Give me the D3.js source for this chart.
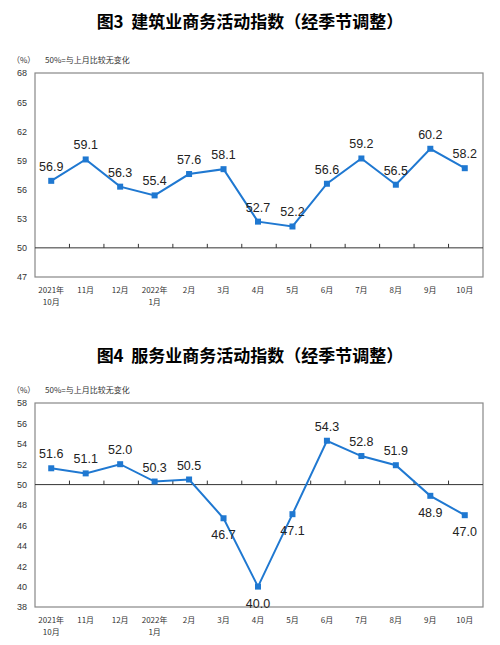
<!DOCTYPE html>
<html><head><meta charset="utf-8">
<script src="https://cdn.jsdelivr.net/npm/d3@7"></script>
<style>body{margin:0;background:#fff;font-family:"Liberation Sans","Noto Sans CJK SC",sans-serif}</style>
</head><body><svg id="c" width="500" height="645"></svg>
<script>
// months shared by both charts
var months = ["2021年|10月","11月","12月","2022年|1月","2月","3月","4月","5月","6月","7月","8月","9月","10月"];
var constValues = [56.9,59.1,56.3,55.4,57.6,58.1,52.7,52.2,56.6,59.2,56.5,60.2,58.2];
var serviceValues = [51.6,51.1,52.0,50.3,50.5,46.7,40.0,47.1,54.3,52.8,51.9,48.9,47.0];
var constTicks = [47,50,53,56,59,62,65,68];
var serviceTicks = [38,40,42,44,46,48,50,52,54,56,58];
// label placement: 1 above, -1 below
var constPos = [1,1,1,1,1,1,1,1,1,1,1,1,1];
var servicePos = [1,1,1,1,1,-1,-1,-1,1,1,1,-1,-1];

var svg = d3.select("#c");

function drawChart(title, titleY, top, bottom, values, ticks, pos) {
    var left = 35, right = 483;
    var x = d3.scaleBand().domain(d3.range(values.length)).range([left, right]);
    var y = d3.scaleLinear().domain([ticks[0], ticks[ticks.length-1]]).range([bottom, top]);

    svg.append("text").attr("x", 250).attr("y", titleY).attr("text-anchor", "middle")
        .attr("font-size", 17).attr("font-weight", "bold").attr("font-family", "Noto Sans CJK SC")
        .attr("xml:space", "preserve").text(title);
    svg.append("text").attr("x", 12).attr("y", top - 10).attr("font-size", 8).attr("fill", "#333").attr("font-family", "Noto Sans CJK SC").text("（%）");
    svg.append("text").attr("x", 45).attr("y", top - 10).attr("font-size", 8).attr("fill", "#333").attr("font-family", "Noto Sans CJK SC").text("50%=与上月比较无变化");

    svg.append("rect").attr("x", left).attr("y", top).attr("width", right-left).attr("height", bottom-top)
        .attr("fill", "none").attr("stroke", "#888").attr("stroke-width", 1.2);

    var yAxis = svg.append("g").attr("transform", "translate(" + left + ",0)")
        .call(d3.axisLeft(y).tickValues(ticks).tickSize(0).tickPadding(8));
    yAxis.select(".domain").remove();
    yAxis.selectAll("text").attr("font-size", 9).attr("fill", "#333");

    // 50 line with ticks at band edges
    svg.append("line").attr("x1", left).attr("x2", right).attr("y1", y(50)).attr("y2", y(50)).attr("stroke", "#333");
    svg.selectAll(null).data(d3.range(1, values.length)).enter().append("line")
        .attr("x1", function(i){ return left + i*x.step(); }).attr("x2", function(i){ return left + i*x.step(); })
        .attr("y1", y(50)).attr("y2", y(50) - 4).attr("stroke", "#333");

    var cx = function(d, i){ return x(i) + x.bandwidth()/2 - 1; };
    var line = d3.line().x(cx).y(function(d){ return y(d); });
    svg.append("path").attr("d", line(values)).attr("fill", "none").attr("stroke", "#1f78d1").attr("stroke-width", 2);
    svg.selectAll(null).data(values).enter().append("rect")
        .attr("x", function(d,i){ return cx(d,i) - 3; }).attr("y", function(d){ return y(d) - 3; })
        .attr("width", 6).attr("height", 6).attr("fill", "#1f78d1");
    svg.selectAll(null).data(values).enter().append("text")
        .attr("x", cx).attr("y", function(d,i){ return pos[i] > 0 ? y(d) - 10 : y(d) + 21; })
        .attr("text-anchor", "middle").attr("font-size", 12.5).attr("fill", "#222")
        .text(function(d){ return d.toFixed(1); });

    months.forEach(function(m, i){
        var parts = m.split("|");
        var t = svg.append("text").attr("x", cx(0, i)).attr("y", bottom + 16).attr("text-anchor", "middle")
            .attr("font-size", 8).attr("fill", "#333").attr("font-family", "Noto Sans CJK SC");
        parts.forEach(function(p, k){ t.append("tspan").attr("x", cx(0, i)).attr("dy", k ? 12 : 0).text(p); });
    });
}

drawChart("图3  建筑业商务活动指数（经季节调整）", 28, 73, 277, constValues, constTicks, constPos);
drawChart("图4  服务业商务活动指数（经季节调整）", 362, 403, 607, serviceValues, serviceTicks, servicePos);
</script></body></html>
